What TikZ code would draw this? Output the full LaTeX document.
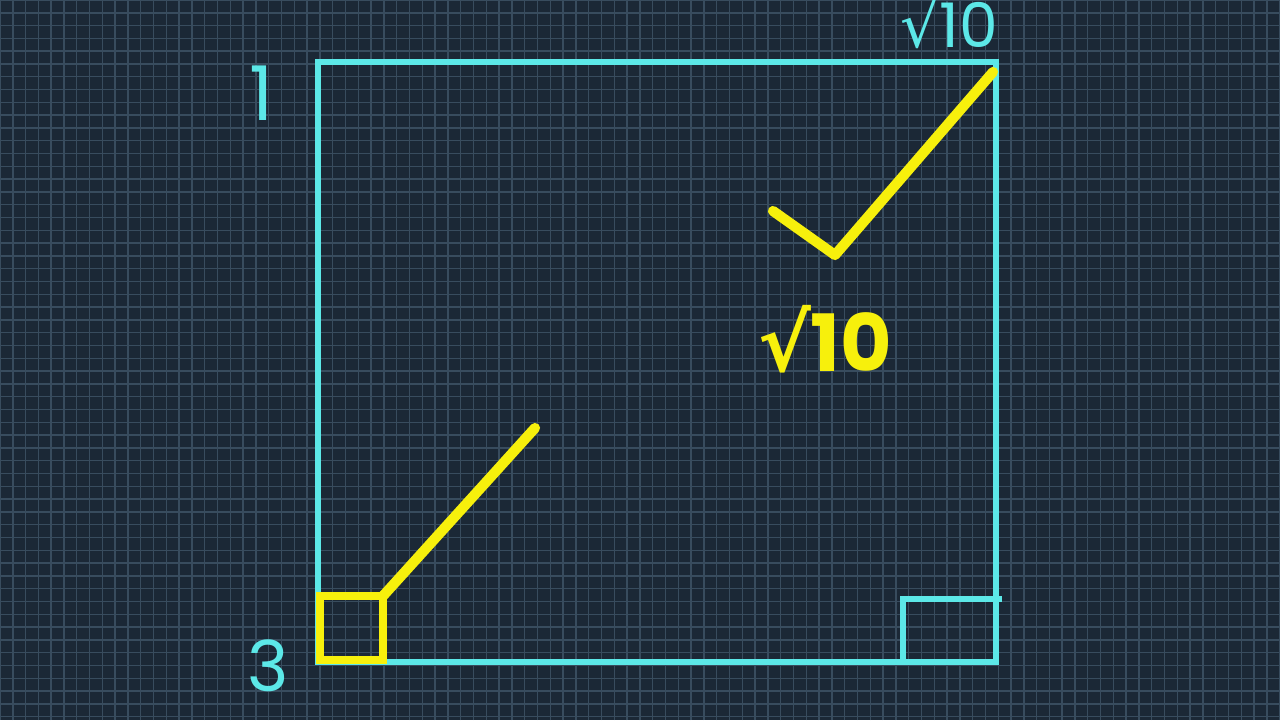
\documentclass[tikz,border=0pt]{standalone}
\usepackage{fontspec}
\setmainfont{Poppins}
\newfontfamily\symfont{DejaVu Sans}
\usepackage{xcolor}
\usepackage{tikz}

\definecolor{boardbg}{RGB}{27,40,54}
\definecolor{boardgrid}{RGB}{56,76,94}
\definecolor{sqcyan}{RGB}{92,232,232}
\definecolor{hiyellow}{RGB}{247,240,12}

\begin{document}
\begin{tikzpicture}[x=0.02cm, y=-0.02cm]
  % Define styles
  \tikzstyle{side} = [draw=sqcyan, line width=3.2pt, line cap=rect]
  \tikzstyle{stroke} = [draw=hiyellow, line width=5.8pt, line cap=round, line join=round]
  \tikzstyle{box} = [draw=hiyellow, line width=4.6pt, line join=miter]
  \tikzstyle{lab} = [text=sqcyan, inner sep=0pt]

  % Background and grid
  \fill[boardbg] (0,0) rectangle (1280,720);
  \clip (0,0) rectangle (1280,720);
  \draw[boardgrid, line width=0.8pt, step=0.256cm] (0,0) grid (1280,720);

  % Corners
  \coordinate (tl) at (318,62);
  \coordinate (tr) at (996,62);
  \coordinate (br) at (996,662);
  \coordinate (bl) at (318,662);

  % Square and right angle
  \draw[side] (tl) -- (tr) -- (br) -- (bl) -- cycle;
  \coordinate (ra1) at (903,662);
  \coordinate (ra2) at (903,599);
  \coordinate (ra3) at (999,599);
  \draw[side] (ra1) -- (ra2) -- (ra3);

  % Labels
  \node[lab, font=\fontsize{43}{50}\selectfont] (one) at (262,93) {1};
  \node[lab, font=\fontsize{40}{48}\selectfont] (three) at (268,666) {3};
  \node[lab, font=\fontsize{35}{42}\selectfont] (topr) at (949,23) {{\symfont √}10};

  % Yellow marks
  \coordinate (yb1) at (320,596);
  \coordinate (yb2) at (383,596);
  \coordinate (yb3) at (383,660);
  \coordinate (yb4) at (320,660);
  \draw[box] (yb1) -- (yb2) -- (yb3) -- (yb4) -- cycle;
  \coordinate (diagend) at (535,428);
  \draw[stroke] (yb2) -- (diagend);
  \coordinate (ck1) at (773,211);
  \coordinate (ck2) at (835,255);
  \coordinate (ck3) at (993,72);
  \draw[stroke] (ck1) -- (ck2) -- (ck3);
  \node[text=hiyellow, font=\bfseries\fontsize{45}{54}\selectfont, inner sep=0pt] (diag) at (825,339) {{\symfont\bfseries √}10};
\end{tikzpicture}
\end{document}
